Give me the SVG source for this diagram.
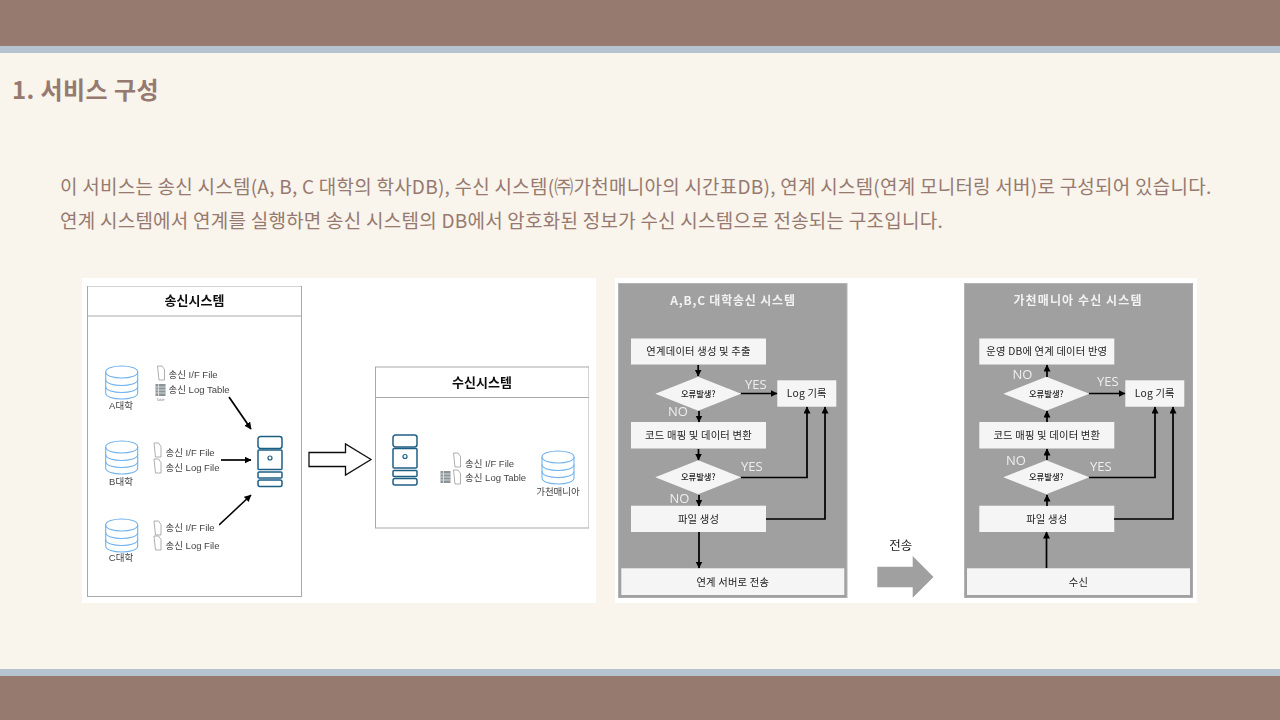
<svg xmlns="http://www.w3.org/2000/svg" width="1280" height="720" viewBox="0 0 1280 720">
<style>
text{font-family:"Noto Sans CJK KR","Noto Sans",sans-serif}
.h{fill:#967a70}
.b{font-size:19px;letter-spacing:.24px}
.m{text-anchor:middle}
.ttl{font-size:13px;font-weight:700;fill:#111}
.lbl{font-size:9.500px;fill:#444;font-family:"Liberation Sans","Noto Sans CJK KR",sans-serif}
.sys{fill:#fff;stroke:#a9a9a9;stroke-width:1}
.pan{fill:#a0a0a0;stroke:#b4b4b4;stroke-width:1}
.bx{fill:#f5f5f5}
.t{font-size:10.300px;letter-spacing:.2px;fill:#222;text-anchor:middle}
.t2{font-size:8.300px;font-weight:500;fill:#222;text-anchor:middle}
.w{font-size:13px;fill:#eee;font-family:"Open Sans",sans-serif}
.pt{font-size:12px;letter-spacing:.8px;font-weight:700;fill:#f2f2f2;text-anchor:middle}
.c{fill:none;stroke:#000;stroke-width:1.700}
.s{fill:#fff;stroke:#1f5f85;stroke-width:1.500}
.d{fill:#fff;stroke:#6fb2ee;stroke-width:1.100}
.f{fill:#fff;stroke:#9a9a9a;stroke-width:.8}
</style>
<defs>
<filter id="soft" x="0" y="0" width="100%" height="100%"><feGaussianBlur stdDeviation=".35"/></filter>
<marker id="a" markerWidth="8" markerHeight="8" refX="6.500" refY="3.500" orient="auto" markerUnits="userSpaceOnUse"><path d="M0 0L7 3.500L0 7Z" fill="#000"/></marker>
<g id="db"><path class="d" d="M0 6C0 -2 32 -2 32 6V27C32 35 0 35 0 27Z"/><path class="d" d="M0 6C0 14 32 14 32 6M0 13.500C0 21.500 32 21.500 32 13.500M0 20.500C0 28.500 32 28.500 32 20.500" style="fill:none"/></g>
<g id="srv"><rect class="s" x=".5" y=".5" width="24" height="12" rx="2.500"/><rect class="s" x=".5" y="14" width="24" height="19.500" rx="1"/><circle cx="12.500" cy="22" r="2" fill="none" stroke="#1f5f85" stroke-width="1.200"/><rect class="s" x=".5" y="36" width="24" height="6" rx="1"/><rect class="s" x=".5" y="44" width="24" height="6.500" rx="2"/></g>
<path id="file" class="f" d="M0 0H4.500L7 3.500V14H1.500Z"/>
<g id="tbl"><rect x="0" y="0" width="10" height="12" fill="#8b9398"/><path d="M0 3H10M0 6H10M0 9H10M3 0V12" stroke="#e8e8e8" stroke-width=".8"/></g>
</defs>
<rect width="1280" height="720" fill="#f9f4ec"/>
<rect width="1280" height="46" fill="#967a70"/>
<rect y="46" width="1280" height="7" fill="#b5c2cf"/>
<rect y="669" width="1280" height="7" fill="#b5c2cf"/>
<rect y="676" width="1280" height="44" fill="#967a70"/>
<text id="title" class="h" x="12" y="98.500" font-size="24" font-weight="700" letter-spacing=".4">1. 서비스 구성</text>
<text class="h b" x="60" y="194">이 서비스는 송신 시스템(A, B, C 대학의 학사DB), 수신 시스템(㈜가천매니아의 시간표DB), 연계 시스템(연계 모니터링 서버)로 구성되어 있습니다.</text>
<text class="h b" x="60" y="228">연계 시스템에서 연계를 실행하면 송신 시스템의 DB에서 암호화된 정보가 수신 시스템으로 전송되는 구조입니다.</text>

<rect x="82" y="278" width="514" height="325" fill="#fff"/>
<rect x="615" y="278" width="582" height="325" fill="#fff"/>

<g filter="url(#soft)">
<g id="send-system">
<rect class="sys" x="87.500" y="286" width="214" height="310.500"/>
<path d="M87.500 316H301.500" stroke="#a9a9a9"/>
<text class="ttl m" x="194.500" y="304.500">송신시스템</text>
</g>
<g id="univ-a"><use href="#db" x="105.700" y="366"/><text class="lbl m" x="121" y="409">A대학</text>
<use href="#file" x="157.500" y="366"/><text class="lbl" x="168.500" y="378">송신 I/F File</text>
<use href="#tbl" x="155.500" y="384"/><text x="160.500" y="401" font-size="3" fill="#777" text-anchor="middle">Table</text><text class="lbl" x="168.500" y="393">송신 Log Table</text></g>
<g id="univ-b"><use href="#db" x="105.700" y="441"/><text class="lbl m" x="121" y="485">B대학</text>
<use href="#file" x="154" y="443"/><text class="lbl" x="165.500" y="456">송신 I/F File</text>
<use href="#file" x="154" y="459"/><text class="lbl" x="165.500" y="471">송신 Log File</text></g>
<g id="univ-c"><use href="#db" x="105.700" y="519"/><text class="lbl m" x="121" y="561">C대학</text>
<use href="#file" x="154" y="521"/><text class="lbl" x="165.500" y="531">송신 I/F File</text>
<use href="#file" x="154" y="536"/><text class="lbl" x="165.500" y="549">송신 Log File</text></g>
<g id="send-server"><use href="#srv" x="257.500" y="436"/></g>
<g id="recv-system">
<rect class="sys" x="375.500" y="367" width="213.500" height="161"/>
<path d="M375.500 397.500H589" stroke="#a9a9a9"/>
<text class="ttl m" x="482" y="386.500">수신시스템</text>
</g>
<g id="recv-server"><use href="#srv" x="392.500" y="434.500"/></g>
<g id="recv-files"><use href="#file" x="453.500" y="453"/><text class="lbl" x="465" y="467">송신 I/F File</text>
<use href="#tbl" x="440.500" y="471"/><use href="#file" x="453.500" y="470"/><text class="lbl" x="465" y="481">송신 Log Table</text></g>
<g id="recv-db"><use href="#db" x="542" y="451"/><text class="lbl m" x="558" y="495">가천매니아</text></g>
<path id="big-arrow" d="M309 452.500H345.500V444L371 459.500L345.500 475V466.500H309Z" fill="#fff" stroke="#111" stroke-width="1.300"/>
</g>

<g filter="url(#soft)">
<g id="panel-send"><rect class="pan" x="618.500" y="283.500" width="228.500" height="314.500"/><text class="pt" x="733" y="305">A,B,C 대학송신 시스템</text></g>
<g id="s1"><rect class="bx" x="631" y="338.500" width="135" height="26"/><text class="t" x="698.500" y="355">연계데이터 생성 및 추출</text></g>
<g id="s2"><path class="bx" d="M655.300 393.700L698.200 376.700L741 393.700L698.200 410.700Z"/><text class="t2" x="698.200" y="396.500">오류발생?</text></g>
<g id="s3"><rect class="bx" x="631" y="422" width="135" height="26.500"/><text class="t" x="698.500" y="439">코드 매핑 및 데이터 변환</text></g>
<g id="s4"><path class="bx" d="M655.300 477.300L698.200 460.300L741 477.300L698.200 494.300Z"/><text class="t2" x="698.200" y="480">오류발생?</text></g>
<g id="s5"><rect class="bx" x="631" y="505.700" width="135" height="26.300"/><text class="t" x="698.500" y="522.500">파일 생성</text></g>
<g id="s6"><rect class="bx" x="777.300" y="380.300" width="59" height="26.400"/><text class="t" x="806.800" y="397">Log 기록</text></g>
<g id="s7"><rect class="bx" x="621.300" y="568.300" width="223" height="26.700"/><text class="t" x="732.800" y="585.500">연계 서버로 전송</text></g>

<g id="panel-recv"><rect class="pan" x="964.500" y="283.500" width="228.500" height="314.500"/><text class="pt" x="1078" y="305" style="letter-spacing:1.100px">가천매니아 수신 시스템</text></g>
<g id="r1"><rect class="bx" x="979.300" y="338.500" width="135" height="26"/><text class="t" x="1046.800" y="355">운영 DB에 연계 데이터 반영</text></g>
<g id="r2"><path class="bx" d="M1003.300 393.700L1046.300 376.700L1089.300 393.700L1046.300 410.700Z"/><text class="t2" x="1046.300" y="396.500">오류발생?</text></g>
<g id="r3"><rect class="bx" x="979.300" y="422" width="135" height="26.500"/><text class="t" x="1046.800" y="439">코드 매핑 및 데이터 변환</text></g>
<g id="r4"><path class="bx" d="M1003.300 477.300L1046.300 460.300L1089.300 477.300L1046.300 494.300Z"/><text class="t2" x="1046.300" y="480">오류발생?</text></g>
<g id="r5"><rect class="bx" x="979.300" y="505.700" width="135" height="26.300"/><text class="t" x="1046.800" y="522.500">파일 생성</text></g>
<g id="r6"><rect class="bx" x="1125.300" y="380.300" width="59" height="26.400"/><text class="t" x="1154.800" y="397">Log 기록</text></g>
<g id="r7"><rect class="bx" x="967" y="568.300" width="223" height="26.700"/><text class="t" x="1078.500" y="585.500">수신</text></g>

<g id="labels">
<text class="w" x="745" y="389">YES</text><text class="w" x="668" y="416">NO</text>
<text class="w" x="741" y="471">YES</text><text class="w" x="669.500" y="503">NO</text>
<text class="w" x="1097" y="386">YES</text><text class="w" x="1012.500" y="379">NO</text>
<text class="w" x="1090" y="471">YES</text><text class="w" x="1006" y="465">NO</text>
</g>
<g id="transfer"><text x="900.700" y="550" font-size="12.500" fill="#222" text-anchor="middle">전송</text>
<path d="M877.300 566.700H912.700V556L933.500 577L912.700 597.700V587.300H877.300Z" fill="#a0a0a0"/></g>

<g id="connectors">
<path class="c" marker-end="url(#a)" d="M229 397L251 429"/>
<path class="c" marker-end="url(#a)" d="M221 460H251"/>
<path class="c" marker-end="url(#a)" d="M219 525L251 495"/>
<path class="c" marker-end="url(#a)" d="M698.200 365V376"/>
<path class="c" marker-end="url(#a)" d="M699 411V422"/>
<path class="c" marker-end="url(#a)" d="M698.500 449V460"/>
<path class="c" marker-end="url(#a)" d="M699 495V506"/>
<path class="c" marker-end="url(#a)" d="M699 532V568"/>
<path class="c" marker-end="url(#a)" d="M741 393.500H777"/>
<path class="c" marker-end="url(#a)" d="M741 477.500H807V407"/>
<path class="c" marker-end="url(#a)" d="M766 519H825V407"/>
<path class="c" marker-end="url(#a)" d="M1047 377V365"/>
<path class="c" marker-end="url(#a)" d="M1047 422V411"/>
<path class="c" marker-end="url(#a)" d="M1047 460V449"/>
<path class="c" marker-end="url(#a)" d="M1047 506V495"/>
<path class="c" marker-end="url(#a)" d="M1046.500 568V532"/>
<path class="c" marker-end="url(#a)" d="M1089 393.500H1125"/>
<path class="c" marker-end="url(#a)" d="M1089 477.500H1155V407"/>
<path class="c" marker-end="url(#a)" d="M1114 519H1173V407"/>
</g>
</g>
</svg>
